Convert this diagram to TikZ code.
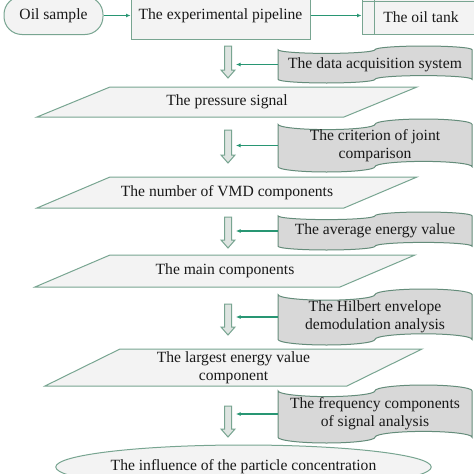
\documentclass[tikz,border=0pt]{standalone}
\usepackage{fontspec}
\setmainfont{Liberation Serif}
\usetikzlibrary{arrows.meta,shapes.geometric,calc}
\definecolor{connc}{RGB}{40,150,115}
\definecolor{bordc}{RGB}{120,165,145}
\definecolor{lightfill}{RGB}{243,243,243}
\definecolor{tapefill}{RGB}{216,216,216}
\definecolor{tapebord}{RGB}{100,140,122}
\definecolor{arrfill}{RGB}{222,228,225}
\definecolor{txtc}{RGB}{25,25,25}
\tikzset{
  connector/.style={draw=connc,line width=1.3pt,-{Latex[length=4.5pt,width=4pt]}},
  parastyle/.style={draw=bordc,fill=lightfill,line width=1pt},
  tapestyle/.style={draw=tapebord,fill=tapefill,line width=1pt},
  blockarr/.style={draw=bordc,fill=arrfill,line width=1pt},
  txt/.style={text=txtc,align=center,inner sep=0pt},
  boxstyle/.style={draw=bordc,fill=lightfill,line width=1pt,text=txtc,inner sep=0pt},
}
\newcommand\paranode[7]{%
  \draw[parastyle] (#2,#3) -- ({#2+#5},#3) -- ({#2+#5-#6},#4) -- ({#2-#6},#4) -- cycle;
  \node[txt] (#1) at ({#2+(#5-#6)/2},{(#3+#4)/2}) {#7};}
\newcommand\tapenode[6]{%
  \pgfmathsetmacro\tw{(#4-#2)/4}\pgfmathsetmacro\th{(#5-#3)/10}%
  \draw[tapestyle] (#2,{#3+\th})
    arc[start angle=180,end angle=360,x radius=\tw pt,y radius=\th pt]
    arc[start angle=180,end angle=0,x radius=\tw pt,y radius=\th pt]
    -- (#4,{#5-\th})
    arc[start angle=0,end angle=180,x radius=\tw pt,y radius=\th pt]
    arc[start angle=0,end angle=-180,x radius=\tw pt,y radius=\th pt]
    -- cycle;
  \pgfmathsetmacro\nw{#4-#2}\pgfmathsetmacro\nh{#5-#3}%
  \node[txt,minimum width=\nw pt,minimum height=\nh pt] (#1) at ({(#2+#4)/2},{(#3+#5)/2}) {#6};}
\newcommand\blockarrow[2]{%
  \draw[blockarr] (224.5,#1) -- (231.5,#1) -- (231.5,{#2-8}) -- (235,{#2-8}) -- (228,#2)
    -- (221,{#2-8}) -- (224.5,{#2-8}) -- cycle;}
\begin{document}
\begin{tikzpicture}[x=1pt,y=-1pt,font=\fontsize{15.6}{18}\selectfont]
\useasboundingbox (0,0) rectangle (474,474);
\clip (0,0) rectangle (474,474);
\fill[white] (0,0) rectangle (474,474);

% top row
\node[boxstyle,rounded corners=18pt,minimum width=99pt,minimum height=38pt] (oil) at (53.5,15.5) {Oil sample};
\node[boxstyle,minimum width=179pt,minimum height=47pt] (pipe) at (220.5,15.5) {The experimental pipeline};
\node[boxstyle,minimum width=130pt,minimum height=52pt] (tank) at (427,8) {};
\draw[bordc,line width=1pt] (374,-20) -- (374,34);
\draw[bordc,line width=1pt] (362,1.5) -- (480,1.5);
\node[txt] (tanktext) at (421,17) {The oil tank};
\draw[connector] (oil.east) -- (pipe.west);
\draw[connector] (pipe.east) -- (pipe.east -| tank.west);

\coordinate (bax) at (236,0);

% step 1
\blockarrow{46}{78}
\tapenode{t1}{278}{46}{472}{83}{The data acquisition system}
\draw[connector] (t1.west) -- (t1.west -| bax);
\paranode{p1}{110}{87}{117}{307}{73}{The pressure signal}

% step 2
\blockarrow{130}{163}
\tapenode{t2}{278}{119}{472}{172}{The criterion of joint\\comparison}
\draw[connector] (t2.west) -- (t2.west -| bax);
\paranode{p2}{110}{177}{208}{307}{73}{The number of VMD components}

% step 3
\blockarrow{217}{248}
\tapenode{t3}{278}{212}{472}{250}{The average energy value}
\draw[connector] (t3.west) -- (t3.west -| bax);
\paranode{p3}{110}{255}{287}{305}{75}{The main components}

% step 4
\blockarrow{304}{335}
\tapenode{t4}{278}{289}{472}{345}{The Hilbert envelope\\demodulation analysis}
\draw[connector] (t4.west) -- (t4.west -| bax);
\paranode{p4}{120}{349}{386}{302}{75}{The largest energy value\\component}

% step 5
\blockarrow{406}{437}
\tapenode{t5}{278}{385}{472}{443}{The frequency components\\of signal analysis}
\draw[connector] (t5.west) -- (t5.west -| bax);

% final
\node[boxstyle,ellipse,minimum width=327pt,minimum height=44pt] (infl) at (243.5,467) {The influence of the particle concentration};
\end{tikzpicture}
\end{document}
